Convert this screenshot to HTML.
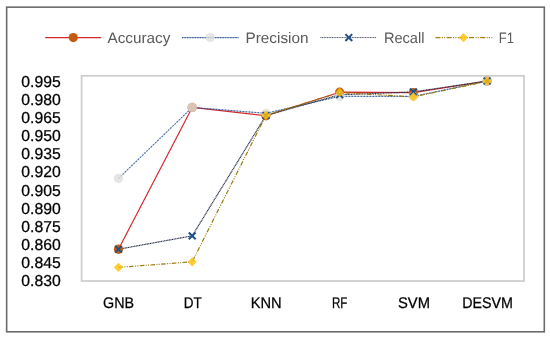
<!DOCTYPE html>
<html lang="en"><head><meta charset="utf-8"><title>Chart</title>
<style>html,body{margin:0;padding:0;background:#fff;}svg{display:block}text{font-family:'Liberation Sans', sans-serif;text-rendering:geometricPrecision}</style></head><body>
<svg width="550" height="339" viewBox="0 0 550 339">
<rect x="0" y="0" width="550" height="339" fill="#ffffff"/>
<rect x="6.65" y="7.15" width="537.65" height="324.65" fill="none" stroke="#6b6b6b" stroke-width="1.6"/>
<rect x="81.6" y="75.8" width="442.40" height="205.20" fill="none" stroke="#cdcdcd" stroke-width="1.75"/>
<polyline points="118.47,249.25 192.20,107.42 265.93,115.75 339.67,92.22 413.40,92.58 487.13,80.99" fill="none" stroke="#d5282c" stroke-width="1.2" stroke-linejoin="round"/>
<polyline points="118.47,178.52 192.20,107.42 265.93,113.34 339.67,96.32 413.40,96.44 487.13,80.99" fill="none" stroke="#2a5394" stroke-opacity="0.38" stroke-width="1.0" stroke-linejoin="round"/>
<polyline points="118.47,178.52 192.20,107.42 265.93,113.34 339.67,96.32 413.40,96.44 487.13,80.99" fill="none" stroke="#2a5394" stroke-opacity="0.8" stroke-width="1.15" stroke-dasharray="1.5 1.5" stroke-linejoin="round"/>
<polyline points="118.47,249.25 192.20,235.86 265.93,115.51 339.67,94.75 413.40,91.97 487.13,80.99" fill="none" stroke="#263248" stroke-width="1.2" stroke-dasharray="1.1 0.5" stroke-linejoin="round"/>
<polyline points="118.47,267.36 192.20,261.81 265.93,115.39 339.67,92.46 413.40,96.92 487.13,81.23" fill="none" stroke="#957706" stroke-width="1.15" stroke-dasharray="4.6 1.4 1.0 1.3 1.0 1.4" stroke-linejoin="round"/>
<circle cx="118.47" cy="249.25" r="4.65" fill="#c55a11" fill-opacity="1"/>
<circle cx="192.20" cy="107.42" r="4.65" fill="#c55a11" fill-opacity="1"/>
<circle cx="265.93" cy="115.75" r="4.65" fill="#c55a11" fill-opacity="1"/>
<circle cx="339.67" cy="92.22" r="4.65" fill="#c55a11" fill-opacity="1"/>
<circle cx="413.40" cy="92.58" r="4.65" fill="#c55a11" fill-opacity="1"/>
<circle cx="487.13" cy="80.99" r="4.65" fill="#c55a11" fill-opacity="1"/>
<circle cx="118.47" cy="178.52" r="4.65" fill="#dfdfdf" fill-opacity="0.8"/>
<circle cx="192.20" cy="107.42" r="4.65" fill="#dfdfdf" fill-opacity="0.8"/>
<circle cx="265.93" cy="113.34" r="4.65" fill="#dfdfdf" fill-opacity="0.8"/>
<circle cx="339.67" cy="96.32" r="4.65" fill="#dfdfdf" fill-opacity="0.8"/>
<circle cx="413.40" cy="96.44" r="4.65" fill="#dfdfdf" fill-opacity="0.8"/>
<circle cx="487.13" cy="80.99" r="4.65" fill="#dfdfdf" fill-opacity="0.8"/>
<path d="M115.07 245.85L121.87 252.65M115.07 252.65L121.87 245.85" stroke="#1f5189" stroke-width="2.0" fill="none"/>
<path d="M188.80 232.46L195.60 239.26M188.80 239.26L195.60 232.46" stroke="#1f5189" stroke-width="2.0" fill="none"/>
<path d="M262.53 112.11L269.33 118.91M262.53 118.91L269.33 112.11" stroke="#1f5189" stroke-width="2.0" fill="none"/>
<path d="M336.27 91.35L343.07 98.15M336.27 98.15L343.07 91.35" stroke="#1f5189" stroke-width="2.0" fill="none"/>
<path d="M410.00 88.57L416.80 95.37M410.00 95.37L416.80 88.57" stroke="#1f5189" stroke-width="2.0" fill="none"/>
<path d="M483.73 77.59L490.53 84.39M483.73 84.39L490.53 77.59" stroke="#1f5189" stroke-width="2.0" fill="none"/>
<path d="M118.47 262.76L123.07 267.36L118.47 271.96L113.87 267.36Z" fill="#ffc20a" fill-opacity="0.82"/>
<path d="M192.20 257.21L196.80 261.81L192.20 266.41L187.60 261.81Z" fill="#ffc20a" fill-opacity="0.82"/>
<path d="M265.93 110.79L270.53 115.39L265.93 119.99L261.33 115.39Z" fill="#ffc20a" fill-opacity="0.82"/>
<path d="M339.67 87.86L344.27 92.46L339.67 97.06L335.07 92.46Z" fill="#ffc20a" fill-opacity="0.82"/>
<path d="M413.40 92.32L418.00 96.92L413.40 101.52L408.80 96.92Z" fill="#ffc20a" fill-opacity="0.82"/>
<path d="M487.13 76.63L491.73 81.23L487.13 85.83L482.53 81.23Z" fill="#ffc20a" fill-opacity="0.82"/>
<line x1="45.2" y1="37.55" x2="101.2" y2="37.55" stroke="#d5282c" stroke-width="1.2"/>
<circle cx="73.30" cy="37.55" r="4.65" fill="#c55a11" fill-opacity="1"/>
<line x1="182" y1="37.55" x2="238.6" y2="37.55" stroke="#2a5394" stroke-opacity="0.4" stroke-width="1.0"/>
<line x1="182" y1="37.55" x2="238.6" y2="37.55" stroke="#2a5394" stroke-width="1.2" stroke-dasharray="0.9 0.75"/>
<circle cx="210.30" cy="37.55" r="4.65" fill="#dfdfdf" fill-opacity="0.8"/>
<line x1="320.4" y1="37.55" x2="376.6" y2="37.55" stroke="#38445c" stroke-width="0.9" stroke-dasharray="1.1 0.55"/>
<path d="M345.40 34.15L352.20 40.95M345.40 40.95L352.20 34.15" stroke="#1f5189" stroke-width="2.0" fill="none"/>
<line x1="435.4" y1="37.55" x2="492.3" y2="37.55" stroke="#a8840f" stroke-width="1.15" stroke-dasharray="5.1 1.3 1.1 1.2 1.1 1.4"/>
<path d="M463.50 32.95L468.10 37.55L463.50 42.15L458.90 37.55Z" fill="#ffc20a" fill-opacity="0.82"/>
<text x="107.5" y="43.0" font-size="15.1" fill="#595959" text-anchor="start" textLength="62.9" lengthAdjust="spacingAndGlyphs">Accuracy</text>
<text x="245.5" y="43.0" font-size="15.1" fill="#595959" text-anchor="start" textLength="63.0" lengthAdjust="spacingAndGlyphs">Precision</text>
<text x="383.9" y="43.0" font-size="15.1" fill="#595959" text-anchor="start" textLength="40.6" lengthAdjust="spacingAndGlyphs">Recall</text>
<text x="498.8" y="43.0" font-size="15.1" fill="#595959" text-anchor="start" textLength="15.2" lengthAdjust="spacingAndGlyphs">F1</text>
<text x="21.3" y="87" font-size="15.8" fill="#000000" text-anchor="start" textLength="39.5" lengthAdjust="spacingAndGlyphs" stroke="#000000" stroke-width="0.25">0.995</text>
<text x="21.3" y="105" font-size="15.8" fill="#000000" text-anchor="start" textLength="39.5" lengthAdjust="spacingAndGlyphs" stroke="#000000" stroke-width="0.25">0.980</text>
<text x="21.3" y="123" font-size="15.8" fill="#000000" text-anchor="start" textLength="39.5" lengthAdjust="spacingAndGlyphs" stroke="#000000" stroke-width="0.25">0.965</text>
<text x="21.3" y="141" font-size="15.8" fill="#000000" text-anchor="start" textLength="39.5" lengthAdjust="spacingAndGlyphs" stroke="#000000" stroke-width="0.25">0.950</text>
<text x="21.3" y="159" font-size="15.8" fill="#000000" text-anchor="start" textLength="39.5" lengthAdjust="spacingAndGlyphs" stroke="#000000" stroke-width="0.25">0.935</text>
<text x="21.3" y="177" font-size="15.8" fill="#000000" text-anchor="start" textLength="39.5" lengthAdjust="spacingAndGlyphs" stroke="#000000" stroke-width="0.25">0.920</text>
<text x="21.3" y="196" font-size="15.8" fill="#000000" text-anchor="start" textLength="39.5" lengthAdjust="spacingAndGlyphs" stroke="#000000" stroke-width="0.25">0.905</text>
<text x="21.3" y="214" font-size="15.8" fill="#000000" text-anchor="start" textLength="39.5" lengthAdjust="spacingAndGlyphs" stroke="#000000" stroke-width="0.25">0.890</text>
<text x="21.3" y="232" font-size="15.8" fill="#000000" text-anchor="start" textLength="39.5" lengthAdjust="spacingAndGlyphs" stroke="#000000" stroke-width="0.25">0.875</text>
<text x="21.3" y="250" font-size="15.8" fill="#000000" text-anchor="start" textLength="39.5" lengthAdjust="spacingAndGlyphs" stroke="#000000" stroke-width="0.25">0.860</text>
<text x="21.3" y="268" font-size="15.8" fill="#000000" text-anchor="start" textLength="39.5" lengthAdjust="spacingAndGlyphs" stroke="#000000" stroke-width="0.25">0.845</text>
<text x="21.3" y="286" font-size="15.8" fill="#000000" text-anchor="start" textLength="39.5" lengthAdjust="spacingAndGlyphs" stroke="#000000" stroke-width="0.25">0.830</text>
<text x="103.07" y="308" font-size="15.4" fill="#000000" text-anchor="start" textLength="31.0" lengthAdjust="spacingAndGlyphs" stroke="#000000" stroke-width="0.25">GNB</text>
<text x="183.80" y="308" font-size="15.4" fill="#000000" text-anchor="start" textLength="18.0" lengthAdjust="spacingAndGlyphs" stroke="#000000" stroke-width="0.25">DT</text>
<text x="250.63" y="308" font-size="15.4" fill="#000000" text-anchor="start" textLength="31.0" lengthAdjust="spacingAndGlyphs" stroke="#000000" stroke-width="0.25">KNN</text>
<text x="331.97" y="308" font-size="15.4" fill="#000000" text-anchor="start" textLength="15.4" lengthAdjust="spacingAndGlyphs" stroke="#000000" stroke-width="0.25">RF</text>
<text x="398.00" y="308" font-size="15.4" fill="#000000" text-anchor="start" textLength="32.0" lengthAdjust="spacingAndGlyphs" stroke="#000000" stroke-width="0.25">SVM</text>
<text x="462.23" y="308" font-size="15.4" fill="#000000" text-anchor="start" textLength="50.8" lengthAdjust="spacingAndGlyphs" stroke="#000000" stroke-width="0.25">DESVM</text>
</svg></body></html>
